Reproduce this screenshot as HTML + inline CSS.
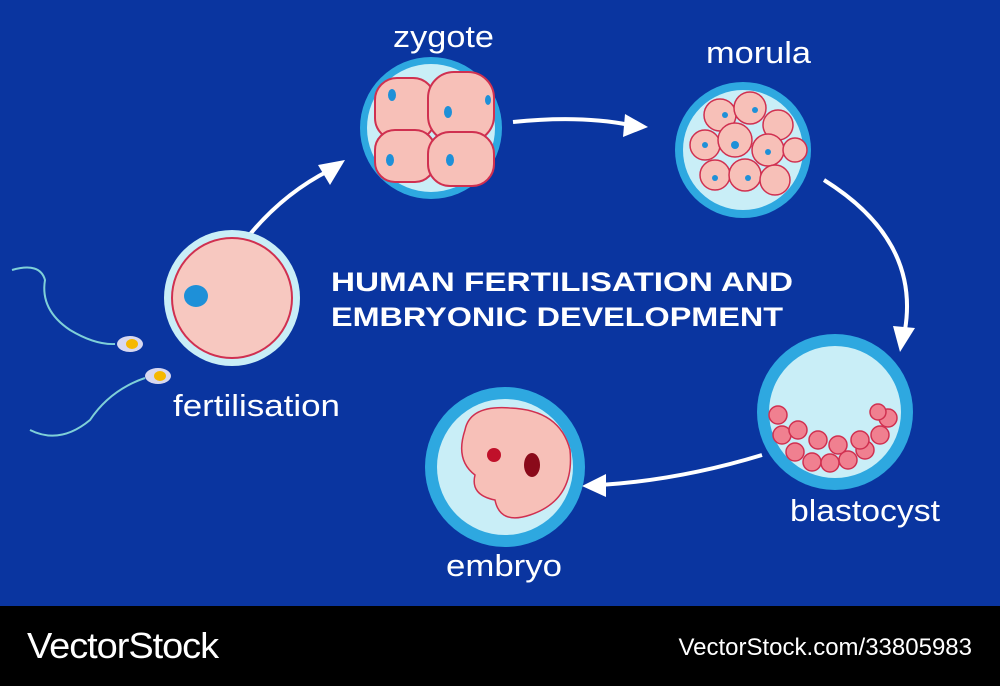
<!DOCTYPE html>
<html><head><meta charset="utf-8"><style>
html,body{margin:0;padding:0;width:1000px;height:686px;overflow:hidden;background:#0a35a0}
svg{display:block}
text{font-family:"Liberation Sans",sans-serif}
</style></head><body>
<svg width="1000" height="686" viewBox="0 0 1000 686">
<rect width="1000" height="606" fill="#0a35a0"/>
<rect y="606" width="1000" height="80" fill="#000"/>
<text x="27" y="658" fill="#fff" font-size="36" letter-spacing="-1" textLength="191" lengthAdjust="spacingAndGlyphs">VectorStock</text>
<text x="972" y="655" fill="#fff" font-size="24" text-anchor="end">VectorStock.com/33805983</text>

<!-- arrows -->
<g fill="none" stroke="#fff" stroke-width="4">
<path d="M243,243 Q280,195 330,170"/>
<path d="M513,122 Q580,115 630,125"/>
<path d="M824,180 Q920,240 905,330"/>
<path d="M762,455 Q680,480 600,485"/>
</g>
<path d="M345,160 L318,165 L330,185 Z" fill="#fff"/>
<path d="M648,127 L625,114 L623,137 Z" fill="#fff"/>
<path d="M900,352 L893,326 L915,328 Z" fill="#fff"/>
<path d="M582,486 L606,474 L606,497 Z" fill="#fff"/>

<!-- sperm -->
<g fill="none" stroke="#7fd0d8" stroke-width="2">
<path d="M12,270 Q40,262 45,280 Q40,310 70,330 Q95,345 115,344"/>
<path d="M30,430 Q60,445 90,420 Q110,390 145,378"/>
</g>
<ellipse cx="130" cy="344" rx="13" ry="8" fill="#d8d8f0"/><ellipse cx="132" cy="344" rx="6" ry="5" fill="#f5b800"/>
<ellipse cx="158" cy="376" rx="13" ry="8" fill="#d8d8f0"/><ellipse cx="160" cy="376" rx="6" ry="5" fill="#f5b800"/>

<!-- fertilisation egg -->
<circle cx="232" cy="298" r="68" fill="#c9eef7"/>
<circle cx="232" cy="298" r="60" fill="#f7c8c0" stroke="#d03050" stroke-width="2"/>
<ellipse cx="196" cy="296" rx="12" ry="11" fill="#1e90d8"/>

<!-- zygote -->
<circle cx="431" cy="128" r="71" fill="#2ea8e0"/>
<circle cx="431" cy="128" r="64" fill="#c9eef7"/>
<g fill="#f7c0b8" stroke="#d03050" stroke-width="2">
<rect x="375" y="78" width="60" height="62" rx="22"/>
<rect x="428" y="72" width="66" height="70" rx="26"/>
<rect x="375" y="130" width="60" height="52" rx="20"/>
<rect x="428" y="132" width="66" height="54" rx="22"/>
</g>
<g fill="#1e90d8"><ellipse cx="392" cy="95" rx="4" ry="6"/><ellipse cx="448" cy="112" rx="4" ry="6"/><ellipse cx="390" cy="160" rx="4" ry="6"/><ellipse cx="450" cy="160" rx="4" ry="6"/><ellipse cx="488" cy="100" rx="3" ry="5"/></g>

<!-- morula -->
<circle cx="743" cy="150" r="68" fill="#2ea8e0"/>
<circle cx="743" cy="150" r="60" fill="#c9eef7"/>
<g fill="#f7c0b8" stroke="#d03050" stroke-width="1.5">
<circle cx="720" cy="115" r="16"/><circle cx="750" cy="108" r="16"/><circle cx="778" cy="125" r="15"/>
<circle cx="705" cy="145" r="15"/><circle cx="735" cy="140" r="17"/><circle cx="768" cy="150" r="16"/><circle cx="795" cy="150" r="12"/>
<circle cx="715" cy="175" r="15"/><circle cx="745" cy="175" r="16"/><circle cx="775" cy="180" r="15"/>
</g>
<g fill="#1e90d8"><circle cx="725" cy="115" r="3"/><circle cx="755" cy="110" r="3"/><circle cx="735" cy="145" r="4"/><circle cx="768" cy="152" r="3"/><circle cx="715" cy="178" r="3"/><circle cx="748" cy="178" r="3"/><circle cx="705" cy="145" r="3"/></g>

<!-- blastocyst -->
<circle cx="835" cy="412" r="78" fill="#2ea8e0"/>
<circle cx="835" cy="412" r="66" fill="#c9eef7"/>
<g fill="#f08090" stroke="#d03050" stroke-width="1.5">
<circle cx="778" cy="415" r="9"/><circle cx="782" cy="435" r="9"/><circle cx="795" cy="452" r="9"/><circle cx="812" cy="462" r="9"/><circle cx="830" cy="463" r="9"/><circle cx="848" cy="460" r="9"/><circle cx="865" cy="450" r="9"/><circle cx="880" cy="435" r="9"/><circle cx="888" cy="418" r="9"/>
<circle cx="798" cy="430" r="9"/><circle cx="818" cy="440" r="9"/><circle cx="838" cy="445" r="9"/><circle cx="860" cy="440" r="9"/><circle cx="878" cy="412" r="8"/>
</g>

<!-- embryo -->
<circle cx="505" cy="467" r="80" fill="#2ea8e0"/>
<circle cx="505" cy="467" r="68" fill="#c9eef7"/>
<path d="M465,430 Q470,405 510,408 Q560,410 570,450 Q575,500 530,515 Q500,525 495,500 Q470,495 475,475 Q455,460 465,430 Z" fill="#f7c0b8" stroke="#d03050" stroke-width="1.5"/>
<circle cx="494" cy="455" r="7" fill="#c0102a"/>
<ellipse cx="532" cy="465" rx="8" ry="12" fill="#8a0a1a"/>

<!-- labels -->
<g fill="#fff" font-size="31">
<text x="393" y="47" textLength="101" lengthAdjust="spacingAndGlyphs">zygote</text>
<text x="706" y="63" textLength="105" lengthAdjust="spacingAndGlyphs">morula</text>
<text x="173" y="416" textLength="167" lengthAdjust="spacingAndGlyphs">fertilisation</text>
<text x="790" y="521" textLength="150" lengthAdjust="spacingAndGlyphs">blastocyst</text>
<text x="446" y="576" textLength="116" lengthAdjust="spacingAndGlyphs">embryo</text>
</g>
<g fill="#fff" font-size="27" font-weight="bold">
<text x="331" y="291" textLength="462" lengthAdjust="spacingAndGlyphs">HUMAN FERTILISATION AND</text>
<text x="331" y="326" textLength="452" lengthAdjust="spacingAndGlyphs">EMBRYONIC DEVELOPMENT</text>
</g>
</svg>
</body></html>
